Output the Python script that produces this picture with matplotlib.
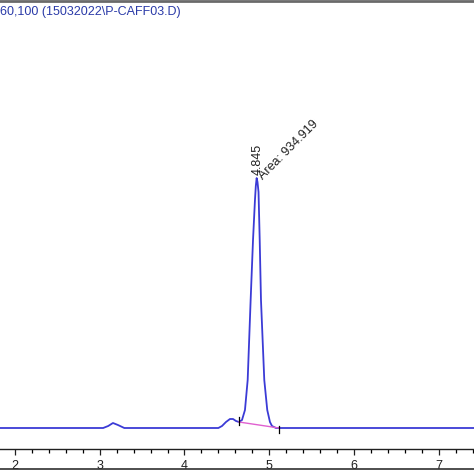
import matplotlib
matplotlib.use("Agg")
import matplotlib.pyplot as plt
from matplotlib.lines import Line2D

plt.rcParams["font.family"] = ["Liberation Sans", "DejaVu Sans"]

# chromatogram trace (time in min, signal in mAU)
time_min = [1.82, 3.00, 3.04, 3.10, 3.156, 3.215, 3.29, 4.30, 4.40, 4.443, 4.49,
            4.537, 4.573, 4.608, 4.643, 4.679, 4.714, 4.746, 4.781, 4.809,
            4.832, 4.842, 4.852, 4.862, 4.874, 4.888, 4.903, 4.942, 4.977,
            5.009, 5.033, 5.08, 7.42]
signal = [0, 0, 0, 2, 5, 3, 0, 0, 0, 2, 6,
          9, 9, 7, 6, 8, 18, 48, 128, 188,
          228, 242, 250, 246, 236, 188, 128, 48, 18,
          6, 2, 0, 0]

# integration baseline of the main peak
base_t = [4.643, 5.115]
base_y = [6, 0]

peak_rt = "4.845"
peak_area = "Area: 934.919"
title = "60,100 (15032022\\P-CAFF03.D)"
x_ticks = [2, 3, 4, 5, 6, 7]

fig = plt.figure(figsize=(4.74, 4.74), dpi=100)
ax = fig.add_axes([0, 0.0517, 1, 0.946])

ax.plot(time_min, signal, color="#3b3bd6", linewidth=1.3)
ax.plot(base_t, base_y, color="#e060d0", linewidth=1.0)
# start / end markers of the integration
ax.plot([base_t[0], base_t[0]], [3, 11], color="black", linewidth=0.9)
ax.plot([base_t[1], base_t[1]], [-5, 2], color="black", linewidth=0.9)

ax.text(4.868, 253, peak_rt, rotation=90, fontsize=9,
        ha="center", va="bottom", color="#202020")
ax.text(4.955, 246, peak_area, rotation=45, fontsize=9,
        ha="left", va="bottom", rotation_mode="anchor", color="#202020")

ax.set_xlim(1.823, 7.417)
ax.set_ylim(-21.5, 427)

ax.set_xticks(x_ticks)
ax.set_xticks([x / 5 for x in range(10, 38)], minor=True)
ax.tick_params(axis="x", which="major", direction="out", length=4.5,
               width=0.9, labelsize=9, pad=3, colors="#202020")
ax.tick_params(axis="x", which="minor", direction="out", length=3,
               width=0.9)
ax.set_yticks([])

for side in ["left", "right"]:
    ax.spines[side].set_visible(False)
ax.spines["bottom"].set_linewidth(1.0)
ax.spines["bottom"].set_color("#202020")
ax.spines["top"].set_linewidth(2.0)
ax.spines["top"].set_color("#6a6a6a")

fig.text(0.0, 0.974, title, fontsize=9, color="#2a3aa8", ha="left", va="center")
fig.add_artist(Line2D([0, 1], [0.0095, 0.0095], color="#303030", linewidth=1.2,
                      transform=fig.transFigure))

fig.savefig("out.png", dpi=100)
